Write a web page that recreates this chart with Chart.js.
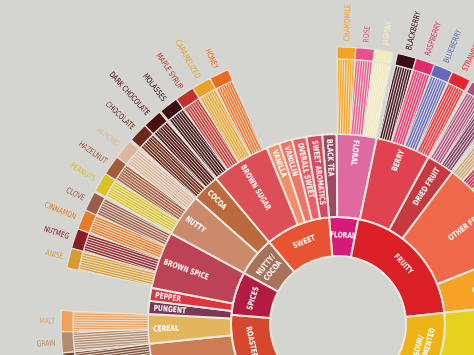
<!DOCTYPE html>
<html>
<head>
<meta charset="utf-8">
<script src="https://cdn.jsdelivr.net/npm/chart.js@4"></script>
<style>
  html, body { margin: 0; padding: 0; width: 474px; height: 355px; overflow: hidden; background: #d4d5d1; }
  #wrap { position: absolute; left: -42px; top: -56px; width: 760px; height: 760px; }
</style>
</head>
<body>
<div id="wrap"><canvas id="wheel" width="760" height="760"></canvas></div>
<script>
// flavour wheel, arc sizes in degrees, every ring starts at 355.2deg (clockwise from top)
const tier1Labels = ['FLORAL', 'FRUITY', 'SOUR/FERMENTED', 'GREEN/VEGETATIVE', 'OTHER', 'ROASTED', 'SPICES', 'NUTTY/COCOA', 'SWEET'];
const tier1Values = [15.8, 73, 42, 44, 71, 34, 23.5, 21.5, 35.2];
const tier1Colors = ['#d71a79', '#db1f26', '#eeb315', '#1f8a3c', '#3a8fb0', '#d6482c', '#b31b43', '#a8725a', '#e85431'];

const tier2Labels = ['BLACK TEA', 'FLORAL', 'BERRY', 'DRIED FRUIT', 'OTHER FRUIT', 'CITRUS FRUIT', 'SOUR', 'ALCOHOL/FERMENTED',
  'OLIVE OIL', 'RAW', 'GREEN/VEGETATIVE', 'BEANY', 'PAPERY/MUSTY', 'CHEMICAL', 'PIPE TOBACCO', 'TOBACCO', 'BURNT', 'CEREAL',
  'PUNGENT', 'PEPPER', 'BROWN SPICE', 'NUTTY', 'COCOA', 'BROWN SUGAR', 'VANILLA', 'VANILLIN', 'OVERALL SWEET', 'SWEET AROMATICS'];
const tier2Values = [4.4, 12.2, 16.7, 8.5, 31.2, 15.8, 26, 16,
  4, 4, 26, 10, 40, 31, 4, 4, 15, 9,
  4, 4, 17.5, 13, 8.5, 18, 4, 4, 4.4, 4.8];
const tier2Colors = ['#9c4a62', '#de6aa0', '#e0434f', '#c8383f', '#f0694a', '#f7a126', '#e6d21e', '#d9a92a',
  '#8f9a2e', '#5f8a3c', '#2f9a4a', '#6aa878', '#8fa2ac', '#5fb0c4', '#b08a60', '#c8a078', '#cd7d55', '#e3b55c',
  '#7a3852', '#dc3541', '#bc4256', '#cc8a6c', '#bb6a3e', '#dc4f56', '#f28f6a', '#ee7569', '#ea6068', '#d8485e'];

// outer leaves, '' = empty stretch of the ring
const leafLabels = ['', 'CHAMOMILE', 'ROSE', 'JASMINE', '', 'BLACKBERRY', 'RASPBERRY', 'BLUEBERRY', 'STRAWBERRY', '',
  'RAISIN', 'PRUNE', '', 'COCONUT', 'CHERRY', 'POMEGRANATE', 'PINEAPPLE', 'GRAPE', 'APPLE', 'PEACH', 'PEAR', '',
  'GRAPEFRUIT', 'ORANGE', 'LEMON', 'LIME', '', 'SOUR AROMATICS', 'ACETIC ACID', 'BUTYRIC ACID', 'ISOVALERIC ACID',
  'CITRIC ACID', 'MALIC ACID', '', 'WINEY', 'WHISKEY', 'FERMENTED', 'OVERRIPE', '',
  'ACRID', 'ASHY', 'SMOKY', 'BROWN ROAST', 'GRAIN', 'MALT', '', 'ANISE', 'NUTMEG', 'CINNAMON', 'CLOVE', '',
  'PEANUTS', 'HAZELNUT', 'ALMOND', '', 'CHOCOLATE', 'DARK CHOCOLATE', '', 'MOLASSES', 'MAPLE SYRUP', 'CARAMELIZED', 'HONEY', ''];
const leafValues = [4.6, 3.9, 3.9, 3.9, 0.9, 4, 4, 4.05, 4.05, 0.5,
  3.9, 3.7, 0.6, 3.85, 3.85, 3.85, 3.85, 3.85, 3.85, 3.85, 3.85, 0.4,
  3.85, 3.85, 3.85, 3.85, 0.4, 4.2, 4.2, 4.2, 4.2,
  4.2, 4.2, 0.8, 3.85, 3.85, 3.85, 3.85, 123.6,
  3.7, 3.7, 3.7, 3.7, 4.4, 4.4, 8.9, 4.2, 4.2, 4.2, 4.1, 0.3,
  4.2, 4.2, 4.2, 0.4, 4.1, 4.1, 0.3, 4.1, 4.1, 4.1, 4.1, 18.6];
const leafColors = ['', '#f5a320', '#e4548c', '#f3ecbc', '', '#3b0b19', '#e22a6e', '#6469b9', '#e62630', '',
  '#b44c7c', '#7e3c62', '', '#cfa978', '#c92a45', '#d63a4a', '#f2c52c', '#8a4a90', '#8ab848', '#f29a6a', '#c4c444', '',
  '#ef6b5e', '#f38a24', '#f4e13a', '#a8c448', '', '#e8c83a', '#d8b830', '#c8a830', '#b89828',
  '#f0d040', '#c8d048', '', '#9a2a4a', '#b8702a', '#c0484a', '#8a5a3a', '',
  '#6a4a3a', '#8a8a88', '#7a6a5a', '#7a4630', '#b38c70', '#f0a05a', '', '#da9a32', '#8c1c24', '#eb7a26', '#9c5c4a', '',
  '#dcc222', '#a65a3c', '#dbb79d', '', '#6c2818', '#4c0e0c', '', '#3a1012', '#c2322a', '#eba224', '#ea6c1f', ''];

const START = 355.2;
const SEP = '#efe8df';
const CLEAR = 'rgba(0,0,0,0)';
const FONT = '"DejaVu Sans", sans-serif';
const SQUEEZE = 0.75; // narrow the lettering like the condensed face of the original

function tint(hex, a) {
  const n = parseInt(hex.slice(1), 16);
  return `rgba(${n >> 16},${(n >> 8) & 255},${n & 255},${a})`;
}

function geom(arc) {
  return arc.getProps(['x', 'y', 'startAngle', 'endAngle', 'innerRadius', 'outerRadius'], true);
}

// canvas angle -> degrees clockwise from 12 o'clock
function clockDeg(a) {
  const d = (a + Math.PI / 2) * 180 / Math.PI;
  return ((d % 360) + 360) % 360;
}

// light lines over the leaf bars
const stripePlugin = {
  id: 'stripes',
  afterDatasetDraw(chart, args) {
    if (args.index !== 1) return;
    const ctx = chart.ctx;
    args.meta.data.forEach((arc, i) => {
      if (!leafLabels[i]) return;
      const p = geom(arc);
      ctx.save();
      ctx.beginPath();
      ctx.arc(p.x, p.y, p.outerRadius, p.startAngle, p.endAngle);
      ctx.arc(p.x, p.y, p.innerRadius, p.endAngle, p.startAngle, true);
      ctx.closePath();
      ctx.clip();
      ctx.translate(p.x, p.y);
      ctx.rotate((p.startAngle + p.endAngle) / 2);
      const half = p.outerRadius * Math.sin((p.endAngle - p.startAngle) / 2) + 2;
      ctx.strokeStyle = 'rgba(246,241,230,0.85)';
      ctx.lineWidth = 0.9;
      for (let off = 1.2; off < half; off += 2.4) {
        [off, -off].forEach(o => {
          ctx.beginPath();
          ctx.moveTo(p.innerRadius - 2, o);
          ctx.lineTo(p.outerRadius + 2, o);
          ctx.stroke();
        });
      }
      ctx.restore();
    });
  }
};

const labelPlugin = {
  id: 'wheelLabels',
  afterDraw(chart) {
    const ctx = chart.ctx;
    ctx.save();
    ctx.textBaseline = 'middle';

    // inner ring: along the arc
    ctx.font = 'bold 8px ' + FONT;
    ctx.fillStyle = '#ffffff';
    ctx.textAlign = 'center';
    chart.getDatasetMeta(3).data.forEach((arc, i) => {
      const p = geom(arc);
      const a = (p.startAngle + p.endAngle) / 2;
      const deg = clockDeg(a);
      const r = (p.innerRadius + p.outerRadius) / 2 + 1;
      const lower = deg > 90 && deg < 270;
      const lines = tier1Labels[i].replace('/', '/\n').split('\n');
      ctx.save();
      ctx.translate(p.x + r * Math.cos(a), p.y + r * Math.sin(a));
      ctx.rotate(lower ? a - Math.PI / 2 : a + Math.PI / 2);
      ctx.scale(SQUEEZE, 1);
      lines.forEach((t, k) => ctx.fillText(t, 0, (k - (lines.length - 1) / 2) * 9));
      ctx.restore();
    });

    // middle ring: radial, from the outer edge
    chart.getDatasetMeta(2).data.forEach((arc, i) => {
      const p = geom(arc);
      const a = (p.startAngle + p.endAngle) / 2;
      const deg = clockDeg(a);
      const outward = deg >= 12 && deg < 180;
      const r = p.outerRadius - 5;
      ctx.save();
      ctx.translate(p.x + r * Math.cos(a), p.y + r * Math.sin(a));
      ctx.rotate(outward ? a : a + Math.PI);
      ctx.scale(SQUEEZE, 1);
      ctx.textAlign = outward ? 'right' : 'left';
      ctx.fillText(tier2Labels[i], 0, 0.5);
      ctx.restore();
    });

    // leaf names outside the wheel, in their own colour
    ctx.font = '8px ' + FONT;
    chart.getDatasetMeta(0).data.forEach((arc, i) => {
      if (!leafLabels[i]) return;
      const p = geom(arc);
      const a = (p.startAngle + p.endAngle) / 2;
      const deg = clockDeg(a);
      const right = deg < 180;
      const r = p.outerRadius + 6;
      ctx.save();
      ctx.fillStyle = leafColors[i];
      ctx.translate(p.x + r * Math.cos(a), p.y + r * Math.sin(a));
      ctx.rotate(right ? a : a + Math.PI);
      ctx.scale(SQUEEZE, 1);
      ctx.textAlign = right ? 'left' : 'right';
      ctx.fillText(leafLabels[i], 0, 0.5);
      ctx.restore();
    });
    ctx.restore();
  }
};

const leafFill = leafLabels.map((l, i) => l ? leafColors[i] : CLEAR);
const leafBorder = leafLabels.map(l => l ? 1.2 : 0);

new Chart(document.getElementById('wheel'), {
  type: 'doughnut',
  data: {
    labels: leafLabels,
    datasets: [
      { // colour blocks at the tip of each leaf
        data: leafValues,
        backgroundColor: leafFill,
        borderColor: '#e2e1dc',
        borderWidth: leafBorder,
        weight: 12
      },
      { // striped leaf bars
        data: leafValues,
        backgroundColor: leafLabels.map((l, i) => l ? tint(leafColors[i], 0.9) : CLEAR),
        borderColor: '#e2e1dc',
        borderWidth: leafBorder,
        weight: 75
      },
      {
        data: tier2Values,
        backgroundColor: tier2Colors,
        borderColor: SEP,
        borderWidth: 2,
        weight: 83
      },
      {
        data: tier1Values,
        backgroundColor: tier1Colors,
        borderColor: SEP,
        borderWidth: 2,
        weight: 39
      }
    ]
  },
  options: {
    responsive: false,
    animation: false,
    rotation: START - 360,
    circumference: 360,
    radius: 277,
    cutout: (68 / 277 * 100) + '%',
    layout: { padding: 0 },
    plugins: { legend: { display: false }, tooltip: { enabled: false } }
  },
  plugins: [stripePlugin, labelPlugin]
});
</script>
</body>
</html>
